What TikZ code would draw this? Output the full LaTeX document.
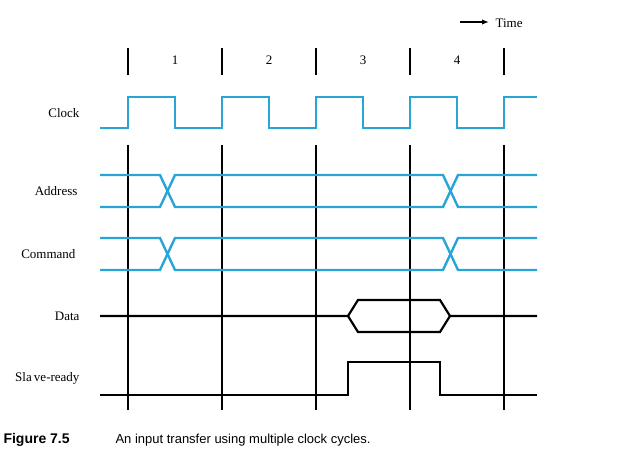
\documentclass[tikz,border=0pt]{standalone}
\usepackage{fontspec}
\setmainfont{Liberation Serif}
\newfontfamily\capfont{Liberation Sans}
\usetikzlibrary{arrows.meta}
\definecolor{sig}{RGB}{40,165,215}
\tikzset{bl/.style={sig,line width=2.4pt},bk/.style={black,line width=2.2pt},
grid/.style={black,line width=1.1pt},lab/.style={font=\fontsize{13}{15}\selectfont,anchor=center},
sl/.style={lab,anchor=east}}
\begin{document}
\begin{tikzpicture}[x=1pt,y=-1pt]
\useasboundingbox (0,0) rectangle (627,462);
% grid
\foreach \x in {128,222,316,410,504}{\draw[grid] (\x,48)--(\x,75); \draw[grid] (\x,145)--(\x,410);}
\foreach \n/\x in {1/175,2/269,3/363,4/457}{\node[lab] (n\n) at (\x,60) {\n};}
\coordinate (ta) at (460,22); \coordinate (tb) at (489,22);
\draw[grid,-{Latex[length=7pt]}] (ta)--(tb);
\node[lab,anchor=west] (time) at (492,23) {Time};
% labels
\node[sl] (clk) at (83,113) {Clock};
\node[sl] (addr) at (81,191) {Address};
\node[sl] (cmd) at (79,254) {Command};
\node[sl] (dat) at (83,316) {Data};
\node[sl] (sr) at (83,378) {Sla\,ve-ready};
% clock
\draw[bl] (100,128)--(128,128)--(128,97)--(175,97)--(175,128)--(222,128)--(222,97)--(269,97)--(269,128)--(316,128)--(316,97)--(363,97)--(363,128)--(410,128)--(410,97)--(457,97)--(457,128)--(504,128)--(504,97)--(537,97);
% address / command
\foreach \t/\b in {175/207,238/270}{
\draw[bl] (100,\t)--(160,\t)--(175,\b)--(443,\b)--(458,\t)--(537,\t);
\draw[bl] (100,\b)--(160,\b)--(175,\t)--(443,\t)--(458,\b)--(537,\b);}
% data
\draw[bk] (100,316)--(348,316)--(358,300)--(440,300)--(450,316)--(537,316);
\draw[bk] (348,316)--(358,332)--(440,332)--(450,316);
% slave ready
\draw[bk] (100,395)--(348,395)--(348,362)--(440,362)--(440,395)--(537,395);
% caption
\node[anchor=west,font=\capfont\bfseries\fontsize{14}{16}\selectfont] (fig) at (0,440) {Figure 7.5};
\node[anchor=west,font=\capfont\fontsize{13}{15}\selectfont] (cap) at (112,440) {An input transfer using multiple clock cycles.};
\end{tikzpicture}
\end{document}
